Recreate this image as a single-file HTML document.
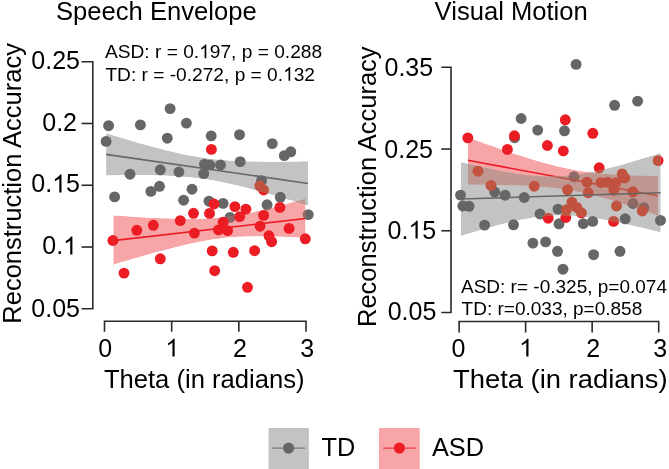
<!DOCTYPE html>
<html><head><meta charset="utf-8"><style>
html,body{margin:0;padding:0;background:#fff;width:669px;height:469px;overflow:hidden}
svg{display:block;will-change:transform}
text{font-family:"Liberation Sans",sans-serif;fill:#000}
.h{fill:transparent}
</style></head><body>
<svg width="669" height="469" viewBox="0 0 669 469">
<defs><clipPath id="cgL"><polygon points="106.10,133.21 111.15,134.75 116.19,136.27 121.24,137.79 126.29,139.28 131.34,140.76 136.38,142.22 141.43,143.66 146.48,145.08 151.53,146.46 156.57,147.81 161.62,149.12 166.67,150.39 171.72,151.61 176.76,152.77 181.81,153.88 186.86,154.91 191.91,155.87 196.95,156.75 202.00,157.55 207.05,158.27 212.10,158.90 217.14,159.45 222.19,159.93 227.24,160.33 232.29,160.66 237.34,160.94 242.38,161.16 247.43,161.33 252.48,161.47 257.52,161.56 262.57,161.62 267.62,161.66 272.67,161.67 277.72,161.66 282.76,161.63 287.81,161.58 292.86,161.52 297.90,161.44 302.95,161.35 308.00,161.26 308.00,205.63 302.95,204.08 297.90,202.54 292.86,201.01 287.81,199.49 282.76,197.99 277.72,196.50 272.67,195.04 267.62,193.59 262.57,192.17 257.52,190.78 252.48,189.42 247.43,188.10 242.38,186.82 237.34,185.58 232.29,184.40 227.24,183.28 222.19,182.23 217.14,181.25 212.10,180.35 207.05,179.53 202.00,178.79 196.95,178.13 191.91,177.56 186.86,177.06 181.81,176.64 176.76,176.29 171.72,176.00 166.67,175.77 161.62,175.58 156.57,175.44 151.53,175.33 146.48,175.26 141.43,175.22 136.38,175.20 131.34,175.21 126.29,175.24 121.24,175.28 116.19,175.34 111.15,175.41 106.10,175.49"/></clipPath><clipPath id="cpL"><polygon points="113.30,215.35 118.10,215.69 122.91,216.01 127.71,216.33 132.52,216.64 137.32,216.93 142.13,217.21 146.94,217.48 151.74,217.74 156.54,217.97 161.35,218.18 166.16,218.37 170.96,218.54 175.76,218.67 180.57,218.76 185.38,218.81 190.18,218.82 194.98,218.77 199.79,218.66 204.59,218.48 209.40,218.23 214.20,217.90 219.01,217.48 223.81,216.97 228.62,216.38 233.43,215.69 238.23,214.92 243.03,214.07 247.84,213.15 252.64,212.16 257.45,211.11 262.25,210.01 267.06,208.86 271.87,207.68 276.67,206.45 281.48,205.20 286.28,203.92 291.08,202.62 295.89,201.29 300.69,199.95 305.50,198.59 305.50,238.01 300.69,237.73 295.89,237.48 291.08,237.24 286.28,237.02 281.48,236.83 276.67,236.66 271.87,236.52 267.06,236.42 262.25,236.36 257.45,236.34 252.64,236.38 247.84,236.47 243.03,236.63 238.23,236.87 233.43,237.19 228.62,237.59 223.81,238.07 219.01,238.65 214.20,239.32 209.40,240.07 204.59,240.90 199.79,241.81 194.98,242.78 190.18,243.82 185.38,244.91 180.57,246.05 175.76,247.23 170.96,248.44 166.16,249.69 161.35,250.97 156.54,252.26 151.74,253.58 146.94,254.92 142.13,256.28 137.32,257.64 132.52,259.02 127.71,260.42 122.91,261.82 118.10,263.23 113.30,264.65"/></clipPath></defs>
<circle cx="108.6" cy="125.7" r="5.45" fill="#666666"/>
<circle cx="106.1" cy="141.4" r="5.45" fill="#666666"/>
<circle cx="140.4" cy="124.9" r="5.45" fill="#666666"/>
<circle cx="170.1" cy="108.6" r="5.45" fill="#666666"/>
<circle cx="167.3" cy="138.2" r="5.45" fill="#666666"/>
<circle cx="130.0" cy="174.2" r="5.45" fill="#666666"/>
<circle cx="160.3" cy="169.8" r="5.45" fill="#666666"/>
<circle cx="186.4" cy="123.1" r="5.45" fill="#666666"/>
<circle cx="211.2" cy="135.9" r="5.45" fill="#666666"/>
<circle cx="239.5" cy="134.7" r="5.45" fill="#666666"/>
<circle cx="240.2" cy="161.6" r="5.45" fill="#666666"/>
<circle cx="220.5" cy="165.0" r="5.45" fill="#666666"/>
<circle cx="204.5" cy="164.2" r="5.45" fill="#666666"/>
<circle cx="209.8" cy="165.0" r="5.45" fill="#666666"/>
<circle cx="203.7" cy="173.6" r="5.45" fill="#666666"/>
<circle cx="178.9" cy="172.0" r="5.45" fill="#666666"/>
<circle cx="272.3" cy="143.6" r="5.45" fill="#666666"/>
<circle cx="290.8" cy="151.8" r="5.45" fill="#666666"/>
<circle cx="284.3" cy="155.6" r="5.45" fill="#666666"/>
<circle cx="114.6" cy="196.9" r="5.45" fill="#666666"/>
<circle cx="150.9" cy="191.4" r="5.45" fill="#666666"/>
<circle cx="159.5" cy="186.3" r="5.45" fill="#666666"/>
<circle cx="192.0" cy="189.2" r="5.45" fill="#666666"/>
<circle cx="183.6" cy="200.2" r="5.45" fill="#666666"/>
<circle cx="209.0" cy="201.2" r="5.45" fill="#666666"/>
<circle cx="223.1" cy="203.4" r="5.45" fill="#666666"/>
<circle cx="230.0" cy="217.4" r="5.45" fill="#666666"/>
<circle cx="261.5" cy="180.7" r="5.45" fill="#666666"/>
<circle cx="280.3" cy="197.3" r="5.45" fill="#666666"/>
<circle cx="267.1" cy="204.8" r="5.45" fill="#666666"/>
<circle cx="308.2" cy="214.6" r="5.45" fill="#666666"/>
<circle cx="211.4" cy="149.4" r="5.45" fill="#ec1c24"/>
<circle cx="112.9" cy="240.5" r="5.45" fill="#ec1c24"/>
<circle cx="136.8" cy="230.3" r="5.45" fill="#ec1c24"/>
<circle cx="153.3" cy="225.3" r="5.45" fill="#ec1c24"/>
<circle cx="214.0" cy="204.0" r="5.45" fill="#ec1c24"/>
<circle cx="193.5" cy="213.3" r="5.45" fill="#ec1c24"/>
<circle cx="209.5" cy="213.4" r="5.45" fill="#ec1c24"/>
<circle cx="234.9" cy="206.6" r="5.45" fill="#ec1c24"/>
<circle cx="245.9" cy="209.2" r="5.45" fill="#ec1c24"/>
<circle cx="239.7" cy="216.6" r="5.45" fill="#ec1c24"/>
<circle cx="180.3" cy="220.6" r="5.45" fill="#ec1c24"/>
<circle cx="223.2" cy="222.2" r="5.45" fill="#ec1c24"/>
<circle cx="218.5" cy="229.9" r="5.45" fill="#ec1c24"/>
<circle cx="227.6" cy="230.6" r="5.45" fill="#ec1c24"/>
<circle cx="194.4" cy="233.1" r="5.45" fill="#ec1c24"/>
<circle cx="160.3" cy="258.8" r="5.45" fill="#ec1c24"/>
<circle cx="124.0" cy="273.1" r="5.45" fill="#ec1c24"/>
<circle cx="212.2" cy="250.9" r="5.45" fill="#ec1c24"/>
<circle cx="233.3" cy="252.3" r="5.45" fill="#ec1c24"/>
<circle cx="254.6" cy="250.7" r="5.45" fill="#ec1c24"/>
<circle cx="214.7" cy="270.7" r="5.45" fill="#ec1c24"/>
<circle cx="247.5" cy="287.3" r="5.45" fill="#ec1c24"/>
<circle cx="259.8" cy="185.8" r="5.45" fill="#ec1c24"/>
<circle cx="263.6" cy="190.0" r="5.45" fill="#ec1c24"/>
<circle cx="279.9" cy="207.4" r="5.45" fill="#ec1c24"/>
<circle cx="263.6" cy="215.4" r="5.45" fill="#ec1c24"/>
<circle cx="260.1" cy="226.2" r="5.45" fill="#ec1c24"/>
<circle cx="289.1" cy="228.4" r="5.45" fill="#ec1c24"/>
<circle cx="269.0" cy="235.8" r="5.45" fill="#ec1c24"/>
<circle cx="271.6" cy="241.7" r="5.45" fill="#ec1c24"/>
<circle cx="305.3" cy="238.8" r="5.45" fill="#ec1c24"/>
<g clip-path="url(#cpL)"><polygon points="113.30,215.35 118.10,215.69 122.91,216.01 127.71,216.33 132.52,216.64 137.32,216.93 142.13,217.21 146.94,217.48 151.74,217.74 156.54,217.97 161.35,218.18 166.16,218.37 170.96,218.54 175.76,218.67 180.57,218.76 185.38,218.81 190.18,218.82 194.98,218.77 199.79,218.66 204.59,218.48 209.40,218.23 214.20,217.90 219.01,217.48 223.81,216.97 228.62,216.38 233.43,215.69 238.23,214.92 243.03,214.07 247.84,213.15 252.64,212.16 257.45,211.11 262.25,210.01 267.06,208.86 271.87,207.68 276.67,206.45 281.48,205.20 286.28,203.92 291.08,202.62 295.89,201.29 300.69,199.95 305.50,198.59 305.50,238.01 300.69,237.73 295.89,237.48 291.08,237.24 286.28,237.02 281.48,236.83 276.67,236.66 271.87,236.52 267.06,236.42 262.25,236.36 257.45,236.34 252.64,236.38 247.84,236.47 243.03,236.63 238.23,236.87 233.43,237.19 228.62,237.59 223.81,238.07 219.01,238.65 214.20,239.32 209.40,240.07 204.59,240.90 199.79,241.81 194.98,242.78 190.18,243.82 185.38,244.91 180.57,246.05 175.76,247.23 170.96,248.44 166.16,249.69 161.35,250.97 156.54,252.26 151.74,253.58 146.94,254.92 142.13,256.28 137.32,257.64 132.52,259.02 127.71,260.42 122.91,261.82 118.10,263.23 113.30,264.65" fill="rgb(248,165,168)"/>
<circle cx="108.6" cy="125.7" r="5.45" fill="rgb(140,105,102)"/>
<circle cx="106.1" cy="141.4" r="5.45" fill="rgb(140,105,102)"/>
<circle cx="140.4" cy="124.9" r="5.45" fill="rgb(140,105,102)"/>
<circle cx="170.1" cy="108.6" r="5.45" fill="rgb(140,105,102)"/>
<circle cx="167.3" cy="138.2" r="5.45" fill="rgb(140,105,102)"/>
<circle cx="130.0" cy="174.2" r="5.45" fill="rgb(140,105,102)"/>
<circle cx="160.3" cy="169.8" r="5.45" fill="rgb(140,105,102)"/>
<circle cx="186.4" cy="123.1" r="5.45" fill="rgb(140,105,102)"/>
<circle cx="211.2" cy="135.9" r="5.45" fill="rgb(140,105,102)"/>
<circle cx="239.5" cy="134.7" r="5.45" fill="rgb(140,105,102)"/>
<circle cx="240.2" cy="161.6" r="5.45" fill="rgb(140,105,102)"/>
<circle cx="220.5" cy="165.0" r="5.45" fill="rgb(140,105,102)"/>
<circle cx="204.5" cy="164.2" r="5.45" fill="rgb(140,105,102)"/>
<circle cx="209.8" cy="165.0" r="5.45" fill="rgb(140,105,102)"/>
<circle cx="203.7" cy="173.6" r="5.45" fill="rgb(140,105,102)"/>
<circle cx="178.9" cy="172.0" r="5.45" fill="rgb(140,105,102)"/>
<circle cx="272.3" cy="143.6" r="5.45" fill="rgb(140,105,102)"/>
<circle cx="290.8" cy="151.8" r="5.45" fill="rgb(140,105,102)"/>
<circle cx="284.3" cy="155.6" r="5.45" fill="rgb(140,105,102)"/>
<circle cx="114.6" cy="196.9" r="5.45" fill="rgb(140,105,102)"/>
<circle cx="150.9" cy="191.4" r="5.45" fill="rgb(140,105,102)"/>
<circle cx="159.5" cy="186.3" r="5.45" fill="rgb(140,105,102)"/>
<circle cx="192.0" cy="189.2" r="5.45" fill="rgb(140,105,102)"/>
<circle cx="183.6" cy="200.2" r="5.45" fill="rgb(140,105,102)"/>
<circle cx="209.0" cy="201.2" r="5.45" fill="rgb(140,105,102)"/>
<circle cx="223.1" cy="203.4" r="5.45" fill="rgb(140,105,102)"/>
<circle cx="230.0" cy="217.4" r="5.45" fill="rgb(140,105,102)"/>
<circle cx="261.5" cy="180.7" r="5.45" fill="rgb(140,105,102)"/>
<circle cx="280.3" cy="197.3" r="5.45" fill="rgb(140,105,102)"/>
<circle cx="267.1" cy="204.8" r="5.45" fill="rgb(140,105,102)"/>
<circle cx="308.2" cy="214.6" r="5.45" fill="rgb(140,105,102)"/>
<circle cx="211.4" cy="149.4" r="5.45" fill="#ec1c24"/>
<circle cx="112.9" cy="240.5" r="5.45" fill="#ec1c24"/>
<circle cx="136.8" cy="230.3" r="5.45" fill="#ec1c24"/>
<circle cx="153.3" cy="225.3" r="5.45" fill="#ec1c24"/>
<circle cx="214.0" cy="204.0" r="5.45" fill="#ec1c24"/>
<circle cx="193.5" cy="213.3" r="5.45" fill="#ec1c24"/>
<circle cx="209.5" cy="213.4" r="5.45" fill="#ec1c24"/>
<circle cx="234.9" cy="206.6" r="5.45" fill="#ec1c24"/>
<circle cx="245.9" cy="209.2" r="5.45" fill="#ec1c24"/>
<circle cx="239.7" cy="216.6" r="5.45" fill="#ec1c24"/>
<circle cx="180.3" cy="220.6" r="5.45" fill="#ec1c24"/>
<circle cx="223.2" cy="222.2" r="5.45" fill="#ec1c24"/>
<circle cx="218.5" cy="229.9" r="5.45" fill="#ec1c24"/>
<circle cx="227.6" cy="230.6" r="5.45" fill="#ec1c24"/>
<circle cx="194.4" cy="233.1" r="5.45" fill="#ec1c24"/>
<circle cx="160.3" cy="258.8" r="5.45" fill="#ec1c24"/>
<circle cx="124.0" cy="273.1" r="5.45" fill="#ec1c24"/>
<circle cx="212.2" cy="250.9" r="5.45" fill="#ec1c24"/>
<circle cx="233.3" cy="252.3" r="5.45" fill="#ec1c24"/>
<circle cx="254.6" cy="250.7" r="5.45" fill="#ec1c24"/>
<circle cx="214.7" cy="270.7" r="5.45" fill="#ec1c24"/>
<circle cx="247.5" cy="287.3" r="5.45" fill="#ec1c24"/>
<circle cx="259.8" cy="185.8" r="5.45" fill="#ec1c24"/>
<circle cx="263.6" cy="190.0" r="5.45" fill="#ec1c24"/>
<circle cx="279.9" cy="207.4" r="5.45" fill="#ec1c24"/>
<circle cx="263.6" cy="215.4" r="5.45" fill="#ec1c24"/>
<circle cx="260.1" cy="226.2" r="5.45" fill="#ec1c24"/>
<circle cx="289.1" cy="228.4" r="5.45" fill="#ec1c24"/>
<circle cx="269.0" cy="235.8" r="5.45" fill="#ec1c24"/>
<circle cx="271.6" cy="241.7" r="5.45" fill="#ec1c24"/>
<circle cx="305.3" cy="238.8" r="5.45" fill="#ec1c24"/>
<line x1="113.3" y1="240.60" x2="305.5" y2="218.50" stroke="#ec1c24" stroke-width="1.6"/>
</g>
<g clip-path="url(#cgL)"><polygon points="106.10,133.21 111.15,134.75 116.19,136.27 121.24,137.79 126.29,139.28 131.34,140.76 136.38,142.22 141.43,143.66 146.48,145.08 151.53,146.46 156.57,147.81 161.62,149.12 166.67,150.39 171.72,151.61 176.76,152.77 181.81,153.88 186.86,154.91 191.91,155.87 196.95,156.75 202.00,157.55 207.05,158.27 212.10,158.90 217.14,159.45 222.19,159.93 227.24,160.33 232.29,160.66 237.34,160.94 242.38,161.16 247.43,161.33 252.48,161.47 257.52,161.56 262.57,161.62 267.62,161.66 272.67,161.67 277.72,161.66 282.76,161.63 287.81,161.58 292.86,161.52 297.90,161.44 302.95,161.35 308.00,161.26 308.00,205.63 302.95,204.08 297.90,202.54 292.86,201.01 287.81,199.49 282.76,197.99 277.72,196.50 272.67,195.04 267.62,193.59 262.57,192.17 257.52,190.78 252.48,189.42 247.43,188.10 242.38,186.82 237.34,185.58 232.29,184.40 227.24,183.28 222.19,182.23 217.14,181.25 212.10,180.35 207.05,179.53 202.00,178.79 196.95,178.13 191.91,177.56 186.86,177.06 181.81,176.64 176.76,176.29 171.72,176.00 166.67,175.77 161.62,175.58 156.57,175.44 151.53,175.33 146.48,175.26 141.43,175.22 136.38,175.20 131.34,175.21 126.29,175.24 121.24,175.28 116.19,175.34 111.15,175.41 106.10,175.49" fill="rgb(195,195,195)"/>
<circle cx="108.6" cy="125.7" r="5.45" fill="#666666"/>
<circle cx="106.1" cy="141.4" r="5.45" fill="#666666"/>
<circle cx="140.4" cy="124.9" r="5.45" fill="#666666"/>
<circle cx="170.1" cy="108.6" r="5.45" fill="#666666"/>
<circle cx="167.3" cy="138.2" r="5.45" fill="#666666"/>
<circle cx="130.0" cy="174.2" r="5.45" fill="#666666"/>
<circle cx="160.3" cy="169.8" r="5.45" fill="#666666"/>
<circle cx="186.4" cy="123.1" r="5.45" fill="#666666"/>
<circle cx="211.2" cy="135.9" r="5.45" fill="#666666"/>
<circle cx="239.5" cy="134.7" r="5.45" fill="#666666"/>
<circle cx="240.2" cy="161.6" r="5.45" fill="#666666"/>
<circle cx="220.5" cy="165.0" r="5.45" fill="#666666"/>
<circle cx="204.5" cy="164.2" r="5.45" fill="#666666"/>
<circle cx="209.8" cy="165.0" r="5.45" fill="#666666"/>
<circle cx="203.7" cy="173.6" r="5.45" fill="#666666"/>
<circle cx="178.9" cy="172.0" r="5.45" fill="#666666"/>
<circle cx="272.3" cy="143.6" r="5.45" fill="#666666"/>
<circle cx="290.8" cy="151.8" r="5.45" fill="#666666"/>
<circle cx="284.3" cy="155.6" r="5.45" fill="#666666"/>
<circle cx="114.6" cy="196.9" r="5.45" fill="#666666"/>
<circle cx="150.9" cy="191.4" r="5.45" fill="#666666"/>
<circle cx="159.5" cy="186.3" r="5.45" fill="#666666"/>
<circle cx="192.0" cy="189.2" r="5.45" fill="#666666"/>
<circle cx="183.6" cy="200.2" r="5.45" fill="#666666"/>
<circle cx="209.0" cy="201.2" r="5.45" fill="#666666"/>
<circle cx="223.1" cy="203.4" r="5.45" fill="#666666"/>
<circle cx="230.0" cy="217.4" r="5.45" fill="#666666"/>
<circle cx="261.5" cy="180.7" r="5.45" fill="#666666"/>
<circle cx="280.3" cy="197.3" r="5.45" fill="#666666"/>
<circle cx="267.1" cy="204.8" r="5.45" fill="#666666"/>
<circle cx="308.2" cy="214.6" r="5.45" fill="#666666"/>
<circle cx="211.4" cy="149.4" r="5.45" fill="rgb(193,82,64)"/>
<circle cx="112.9" cy="240.5" r="5.45" fill="rgb(193,82,64)"/>
<circle cx="136.8" cy="230.3" r="5.45" fill="rgb(193,82,64)"/>
<circle cx="153.3" cy="225.3" r="5.45" fill="rgb(193,82,64)"/>
<circle cx="214.0" cy="204.0" r="5.45" fill="rgb(193,82,64)"/>
<circle cx="193.5" cy="213.3" r="5.45" fill="rgb(193,82,64)"/>
<circle cx="209.5" cy="213.4" r="5.45" fill="rgb(193,82,64)"/>
<circle cx="234.9" cy="206.6" r="5.45" fill="rgb(193,82,64)"/>
<circle cx="245.9" cy="209.2" r="5.45" fill="rgb(193,82,64)"/>
<circle cx="239.7" cy="216.6" r="5.45" fill="rgb(193,82,64)"/>
<circle cx="180.3" cy="220.6" r="5.45" fill="rgb(193,82,64)"/>
<circle cx="223.2" cy="222.2" r="5.45" fill="rgb(193,82,64)"/>
<circle cx="218.5" cy="229.9" r="5.45" fill="rgb(193,82,64)"/>
<circle cx="227.6" cy="230.6" r="5.45" fill="rgb(193,82,64)"/>
<circle cx="194.4" cy="233.1" r="5.45" fill="rgb(193,82,64)"/>
<circle cx="160.3" cy="258.8" r="5.45" fill="rgb(193,82,64)"/>
<circle cx="124.0" cy="273.1" r="5.45" fill="rgb(193,82,64)"/>
<circle cx="212.2" cy="250.9" r="5.45" fill="rgb(193,82,64)"/>
<circle cx="233.3" cy="252.3" r="5.45" fill="rgb(193,82,64)"/>
<circle cx="254.6" cy="250.7" r="5.45" fill="rgb(193,82,64)"/>
<circle cx="214.7" cy="270.7" r="5.45" fill="rgb(193,82,64)"/>
<circle cx="247.5" cy="287.3" r="5.45" fill="rgb(193,82,64)"/>
<circle cx="259.8" cy="185.8" r="5.45" fill="rgb(193,82,64)"/>
<circle cx="263.6" cy="190.0" r="5.45" fill="rgb(193,82,64)"/>
<circle cx="279.9" cy="207.4" r="5.45" fill="rgb(193,82,64)"/>
<circle cx="263.6" cy="215.4" r="5.45" fill="rgb(193,82,64)"/>
<circle cx="260.1" cy="226.2" r="5.45" fill="rgb(193,82,64)"/>
<circle cx="289.1" cy="228.4" r="5.45" fill="rgb(193,82,64)"/>
<circle cx="269.0" cy="235.8" r="5.45" fill="rgb(193,82,64)"/>
<circle cx="271.6" cy="241.7" r="5.45" fill="rgb(193,82,64)"/>
<circle cx="305.3" cy="238.8" r="5.45" fill="rgb(193,82,64)"/>
<g clip-path="url(#cpL)"><polygon points="113.30,215.35 118.10,215.69 122.91,216.01 127.71,216.33 132.52,216.64 137.32,216.93 142.13,217.21 146.94,217.48 151.74,217.74 156.54,217.97 161.35,218.18 166.16,218.37 170.96,218.54 175.76,218.67 180.57,218.76 185.38,218.81 190.18,218.82 194.98,218.77 199.79,218.66 204.59,218.48 209.40,218.23 214.20,217.90 219.01,217.48 223.81,216.97 228.62,216.38 233.43,215.69 238.23,214.92 243.03,214.07 247.84,213.15 252.64,212.16 257.45,211.11 262.25,210.01 267.06,208.86 271.87,207.68 276.67,206.45 281.48,205.20 286.28,203.92 291.08,202.62 295.89,201.29 300.69,199.95 305.50,198.59 305.50,238.01 300.69,237.73 295.89,237.48 291.08,237.24 286.28,237.02 281.48,236.83 276.67,236.66 271.87,236.52 267.06,236.42 262.25,236.36 257.45,236.34 252.64,236.38 247.84,236.47 243.03,236.63 238.23,236.87 233.43,237.19 228.62,237.59 223.81,238.07 219.01,238.65 214.20,239.32 209.40,240.07 204.59,240.90 199.79,241.81 194.98,242.78 190.18,243.82 185.38,244.91 180.57,246.05 175.76,247.23 170.96,248.44 166.16,249.69 161.35,250.97 156.54,252.26 151.74,253.58 146.94,254.92 142.13,256.28 137.32,257.64 132.52,259.02 127.71,260.42 122.91,261.82 118.10,263.23 113.30,264.65" fill="rgb(192,150,144)"/>
<circle cx="108.6" cy="125.7" r="5.45" fill="rgb(140,104,100)"/>
<circle cx="106.1" cy="141.4" r="5.45" fill="rgb(140,104,100)"/>
<circle cx="140.4" cy="124.9" r="5.45" fill="rgb(140,104,100)"/>
<circle cx="170.1" cy="108.6" r="5.45" fill="rgb(140,104,100)"/>
<circle cx="167.3" cy="138.2" r="5.45" fill="rgb(140,104,100)"/>
<circle cx="130.0" cy="174.2" r="5.45" fill="rgb(140,104,100)"/>
<circle cx="160.3" cy="169.8" r="5.45" fill="rgb(140,104,100)"/>
<circle cx="186.4" cy="123.1" r="5.45" fill="rgb(140,104,100)"/>
<circle cx="211.2" cy="135.9" r="5.45" fill="rgb(140,104,100)"/>
<circle cx="239.5" cy="134.7" r="5.45" fill="rgb(140,104,100)"/>
<circle cx="240.2" cy="161.6" r="5.45" fill="rgb(140,104,100)"/>
<circle cx="220.5" cy="165.0" r="5.45" fill="rgb(140,104,100)"/>
<circle cx="204.5" cy="164.2" r="5.45" fill="rgb(140,104,100)"/>
<circle cx="209.8" cy="165.0" r="5.45" fill="rgb(140,104,100)"/>
<circle cx="203.7" cy="173.6" r="5.45" fill="rgb(140,104,100)"/>
<circle cx="178.9" cy="172.0" r="5.45" fill="rgb(140,104,100)"/>
<circle cx="272.3" cy="143.6" r="5.45" fill="rgb(140,104,100)"/>
<circle cx="290.8" cy="151.8" r="5.45" fill="rgb(140,104,100)"/>
<circle cx="284.3" cy="155.6" r="5.45" fill="rgb(140,104,100)"/>
<circle cx="114.6" cy="196.9" r="5.45" fill="rgb(140,104,100)"/>
<circle cx="150.9" cy="191.4" r="5.45" fill="rgb(140,104,100)"/>
<circle cx="159.5" cy="186.3" r="5.45" fill="rgb(140,104,100)"/>
<circle cx="192.0" cy="189.2" r="5.45" fill="rgb(140,104,100)"/>
<circle cx="183.6" cy="200.2" r="5.45" fill="rgb(140,104,100)"/>
<circle cx="209.0" cy="201.2" r="5.45" fill="rgb(140,104,100)"/>
<circle cx="223.1" cy="203.4" r="5.45" fill="rgb(140,104,100)"/>
<circle cx="230.0" cy="217.4" r="5.45" fill="rgb(140,104,100)"/>
<circle cx="261.5" cy="180.7" r="5.45" fill="rgb(140,104,100)"/>
<circle cx="280.3" cy="197.3" r="5.45" fill="rgb(140,104,100)"/>
<circle cx="267.1" cy="204.8" r="5.45" fill="rgb(140,104,100)"/>
<circle cx="308.2" cy="214.6" r="5.45" fill="rgb(140,104,100)"/>
<circle cx="211.4" cy="149.4" r="5.45" fill="rgb(193,82,64)"/>
<circle cx="112.9" cy="240.5" r="5.45" fill="rgb(193,82,64)"/>
<circle cx="136.8" cy="230.3" r="5.45" fill="rgb(193,82,64)"/>
<circle cx="153.3" cy="225.3" r="5.45" fill="rgb(193,82,64)"/>
<circle cx="214.0" cy="204.0" r="5.45" fill="rgb(193,82,64)"/>
<circle cx="193.5" cy="213.3" r="5.45" fill="rgb(193,82,64)"/>
<circle cx="209.5" cy="213.4" r="5.45" fill="rgb(193,82,64)"/>
<circle cx="234.9" cy="206.6" r="5.45" fill="rgb(193,82,64)"/>
<circle cx="245.9" cy="209.2" r="5.45" fill="rgb(193,82,64)"/>
<circle cx="239.7" cy="216.6" r="5.45" fill="rgb(193,82,64)"/>
<circle cx="180.3" cy="220.6" r="5.45" fill="rgb(193,82,64)"/>
<circle cx="223.2" cy="222.2" r="5.45" fill="rgb(193,82,64)"/>
<circle cx="218.5" cy="229.9" r="5.45" fill="rgb(193,82,64)"/>
<circle cx="227.6" cy="230.6" r="5.45" fill="rgb(193,82,64)"/>
<circle cx="194.4" cy="233.1" r="5.45" fill="rgb(193,82,64)"/>
<circle cx="160.3" cy="258.8" r="5.45" fill="rgb(193,82,64)"/>
<circle cx="124.0" cy="273.1" r="5.45" fill="rgb(193,82,64)"/>
<circle cx="212.2" cy="250.9" r="5.45" fill="rgb(193,82,64)"/>
<circle cx="233.3" cy="252.3" r="5.45" fill="rgb(193,82,64)"/>
<circle cx="254.6" cy="250.7" r="5.45" fill="rgb(193,82,64)"/>
<circle cx="214.7" cy="270.7" r="5.45" fill="rgb(193,82,64)"/>
<circle cx="247.5" cy="287.3" r="5.45" fill="rgb(193,82,64)"/>
<circle cx="259.8" cy="185.8" r="5.45" fill="rgb(193,82,64)"/>
<circle cx="263.6" cy="190.0" r="5.45" fill="rgb(193,82,64)"/>
<circle cx="279.9" cy="207.4" r="5.45" fill="rgb(193,82,64)"/>
<circle cx="263.6" cy="215.4" r="5.45" fill="rgb(193,82,64)"/>
<circle cx="260.1" cy="226.2" r="5.45" fill="rgb(193,82,64)"/>
<circle cx="289.1" cy="228.4" r="5.45" fill="rgb(193,82,64)"/>
<circle cx="269.0" cy="235.8" r="5.45" fill="rgb(193,82,64)"/>
<circle cx="271.6" cy="241.7" r="5.45" fill="rgb(193,82,64)"/>
<circle cx="305.3" cy="238.8" r="5.45" fill="rgb(193,82,64)"/>
<line x1="113.3" y1="240.60" x2="305.5" y2="218.50" stroke="rgb(193,82,64)" stroke-width="1.6"/>
</g></g>
<line x1="106.1" y1="154.35" x2="308.0" y2="183.44" stroke="#666666" stroke-width="1.6"/>
<defs><clipPath id="cgR"><polygon points="461.00,161.94 465.99,163.18 470.99,164.40 475.98,165.59 480.97,166.75 485.96,167.87 490.95,168.96 495.95,170.01 500.94,171.01 505.93,171.95 510.93,172.83 515.92,173.64 520.91,174.37 525.90,175.01 530.89,175.56 535.89,175.99 540.88,176.30 545.87,176.49 550.87,176.54 555.86,176.45 560.85,176.23 565.84,175.86 570.84,175.37 575.83,174.74 580.82,173.99 585.81,173.14 590.81,172.18 595.80,171.14 600.79,170.02 605.78,168.82 610.78,167.57 615.77,166.25 620.76,164.89 625.75,163.49 630.75,162.05 635.74,160.58 640.73,159.07 645.72,157.54 650.72,155.99 655.71,154.42 660.70,152.83 660.70,232.59 655.71,231.31 650.72,230.06 645.72,228.82 640.73,227.60 635.74,226.41 630.75,225.26 625.75,224.13 620.76,223.04 615.77,222.00 610.78,221.00 605.78,220.06 600.79,219.18 595.80,218.37 590.81,217.64 585.81,217.00 580.82,216.46 575.83,216.03 570.84,215.72 565.84,215.53 560.85,215.48 555.86,215.57 550.87,215.80 545.87,216.16 540.88,216.67 535.89,217.29 530.89,218.04 525.90,218.90 520.91,219.85 515.92,220.90 510.93,222.02 505.93,223.22 500.94,224.48 495.95,225.79 490.95,227.15 485.96,228.55 480.97,230.00 475.98,231.47 470.99,232.97 465.99,234.50 461.00,236.06"/></clipPath><clipPath id="cpR"><polygon points="467.80,137.34 472.56,139.06 477.31,140.77 482.06,142.47 486.82,144.16 491.57,145.83 496.33,147.50 501.09,149.14 505.84,150.77 510.60,152.38 515.35,153.97 520.11,155.53 524.86,157.06 529.62,158.55 534.37,160.01 539.12,161.42 543.88,162.78 548.63,164.09 553.39,165.33 558.14,166.50 562.90,167.59 567.65,168.61 572.41,169.54 577.16,170.39 581.92,171.15 586.67,171.82 591.43,172.42 596.18,172.95 600.94,173.41 605.69,173.82 610.45,174.16 615.21,174.47 619.96,174.73 624.72,174.95 629.47,175.14 634.23,175.31 638.98,175.45 643.74,175.57 648.49,175.67 653.25,175.75 658.00,175.82 658.00,215.79 653.25,214.12 648.49,212.46 643.74,210.82 638.98,209.20 634.23,207.60 629.47,206.03 624.72,204.48 619.96,202.96 615.21,201.48 610.45,200.05 605.69,198.65 600.94,197.32 596.18,196.04 591.43,194.82 586.67,193.68 581.92,192.62 577.16,191.64 572.41,190.75 567.65,189.94 562.90,189.21 558.14,188.57 553.39,188.00 548.63,187.50 543.88,187.06 539.12,186.68 534.37,186.35 529.62,186.07 524.86,185.83 520.11,185.62 515.35,185.43 510.60,185.28 505.84,185.15 501.09,185.04 496.33,184.94 491.57,184.87 486.82,184.80 482.06,184.75 477.31,184.71 472.56,184.68 467.80,184.66"/></clipPath></defs>
<circle cx="521.1" cy="118.5" r="5.45" fill="#666666"/>
<circle cx="576.1" cy="64.4" r="5.45" fill="#666666"/>
<circle cx="537.7" cy="130.1" r="5.45" fill="#666666"/>
<circle cx="564.5" cy="130.8" r="5.45" fill="#666666"/>
<circle cx="614.6" cy="105.3" r="5.45" fill="#666666"/>
<circle cx="637.6" cy="101.1" r="5.45" fill="#666666"/>
<circle cx="514.6" cy="137.7" r="5.45" fill="#666666"/>
<circle cx="460.5" cy="195.1" r="5.45" fill="#666666"/>
<circle cx="462.8" cy="206.0" r="5.45" fill="#666666"/>
<circle cx="469.1" cy="206.3" r="5.45" fill="#666666"/>
<circle cx="494.7" cy="192.0" r="5.45" fill="#666666"/>
<circle cx="505.1" cy="195.2" r="5.45" fill="#666666"/>
<circle cx="524.2" cy="197.5" r="5.45" fill="#666666"/>
<circle cx="484.6" cy="225.1" r="5.45" fill="#666666"/>
<circle cx="513.5" cy="224.8" r="5.45" fill="#666666"/>
<circle cx="532.9" cy="243.1" r="5.45" fill="#666666"/>
<circle cx="545.6" cy="241.9" r="5.45" fill="#666666"/>
<circle cx="557.5" cy="251.3" r="5.45" fill="#666666"/>
<circle cx="593.6" cy="254.7" r="5.45" fill="#666666"/>
<circle cx="563.0" cy="269.2" r="5.45" fill="#666666"/>
<circle cx="620.0" cy="251.3" r="5.45" fill="#666666"/>
<circle cx="540.0" cy="214.0" r="5.45" fill="#666666"/>
<circle cx="558.0" cy="209.1" r="5.45" fill="#666666"/>
<circle cx="559.0" cy="223.8" r="5.45" fill="#666666"/>
<circle cx="583.3" cy="223.6" r="5.45" fill="#666666"/>
<circle cx="592.7" cy="221.4" r="5.45" fill="#666666"/>
<circle cx="625.2" cy="218.8" r="5.45" fill="#666666"/>
<circle cx="660.5" cy="220.4" r="5.45" fill="#666666"/>
<circle cx="574.0" cy="176.7" r="5.45" fill="#666666"/>
<circle cx="633.0" cy="203.5" r="5.45" fill="#666666"/>
<circle cx="643.8" cy="207.7" r="5.45" fill="#666666"/>
<circle cx="467.8" cy="137.9" r="5.45" fill="#ec1c24"/>
<circle cx="514.4" cy="135.8" r="5.45" fill="#ec1c24"/>
<circle cx="507.4" cy="149.4" r="5.45" fill="#ec1c24"/>
<circle cx="565.3" cy="119.8" r="5.45" fill="#ec1c24"/>
<circle cx="592.8" cy="133.3" r="5.45" fill="#ec1c24"/>
<circle cx="547.4" cy="145.5" r="5.45" fill="#ec1c24"/>
<circle cx="563.3" cy="150.9" r="5.45" fill="#ec1c24"/>
<circle cx="599.2" cy="167.8" r="5.45" fill="#ec1c24"/>
<circle cx="478.0" cy="171.2" r="5.45" fill="#ec1c24"/>
<circle cx="491.0" cy="185.5" r="5.45" fill="#ec1c24"/>
<circle cx="534.3" cy="186.2" r="5.45" fill="#ec1c24"/>
<circle cx="567.5" cy="189.8" r="5.45" fill="#ec1c24"/>
<circle cx="587.0" cy="182.2" r="5.45" fill="#ec1c24"/>
<circle cx="588.3" cy="192.8" r="5.45" fill="#ec1c24"/>
<circle cx="600.9" cy="182.6" r="5.45" fill="#ec1c24"/>
<circle cx="607.6" cy="182.2" r="5.45" fill="#ec1c24"/>
<circle cx="615.9" cy="182.8" r="5.45" fill="#ec1c24"/>
<circle cx="622.2" cy="173.9" r="5.45" fill="#ec1c24"/>
<circle cx="624.7" cy="177.9" r="5.45" fill="#ec1c24"/>
<circle cx="613.8" cy="190.3" r="5.45" fill="#ec1c24"/>
<circle cx="632.8" cy="191.8" r="5.45" fill="#ec1c24"/>
<circle cx="571.9" cy="202.1" r="5.45" fill="#ec1c24"/>
<circle cx="566.5" cy="209.7" r="5.45" fill="#ec1c24"/>
<circle cx="576.8" cy="207.4" r="5.45" fill="#ec1c24"/>
<circle cx="581.4" cy="212.8" r="5.45" fill="#ec1c24"/>
<circle cx="548.2" cy="218.2" r="5.45" fill="#ec1c24"/>
<circle cx="565.8" cy="217.5" r="5.45" fill="#ec1c24"/>
<circle cx="613.6" cy="221.4" r="5.45" fill="#ec1c24"/>
<circle cx="658.1" cy="160.6" r="5.45" fill="#ec1c24"/>
<circle cx="616.5" cy="206.0" r="5.45" fill="#ec1c24"/>
<circle cx="642.3" cy="211.0" r="5.45" fill="#ec1c24"/>
<g clip-path="url(#cpR)"><polygon points="467.80,137.34 472.56,139.06 477.31,140.77 482.06,142.47 486.82,144.16 491.57,145.83 496.33,147.50 501.09,149.14 505.84,150.77 510.60,152.38 515.35,153.97 520.11,155.53 524.86,157.06 529.62,158.55 534.37,160.01 539.12,161.42 543.88,162.78 548.63,164.09 553.39,165.33 558.14,166.50 562.90,167.59 567.65,168.61 572.41,169.54 577.16,170.39 581.92,171.15 586.67,171.82 591.43,172.42 596.18,172.95 600.94,173.41 605.69,173.82 610.45,174.16 615.21,174.47 619.96,174.73 624.72,174.95 629.47,175.14 634.23,175.31 638.98,175.45 643.74,175.57 648.49,175.67 653.25,175.75 658.00,175.82 658.00,215.79 653.25,214.12 648.49,212.46 643.74,210.82 638.98,209.20 634.23,207.60 629.47,206.03 624.72,204.48 619.96,202.96 615.21,201.48 610.45,200.05 605.69,198.65 600.94,197.32 596.18,196.04 591.43,194.82 586.67,193.68 581.92,192.62 577.16,191.64 572.41,190.75 567.65,189.94 562.90,189.21 558.14,188.57 553.39,188.00 548.63,187.50 543.88,187.06 539.12,186.68 534.37,186.35 529.62,186.07 524.86,185.83 520.11,185.62 515.35,185.43 510.60,185.28 505.84,185.15 501.09,185.04 496.33,184.94 491.57,184.87 486.82,184.80 482.06,184.75 477.31,184.71 472.56,184.68 467.80,184.66" fill="rgb(248,165,168)"/>
<circle cx="521.1" cy="118.5" r="5.45" fill="rgb(140,105,102)"/>
<circle cx="576.1" cy="64.4" r="5.45" fill="rgb(140,105,102)"/>
<circle cx="537.7" cy="130.1" r="5.45" fill="rgb(140,105,102)"/>
<circle cx="564.5" cy="130.8" r="5.45" fill="rgb(140,105,102)"/>
<circle cx="614.6" cy="105.3" r="5.45" fill="rgb(140,105,102)"/>
<circle cx="637.6" cy="101.1" r="5.45" fill="rgb(140,105,102)"/>
<circle cx="514.6" cy="137.7" r="5.45" fill="rgb(140,105,102)"/>
<circle cx="460.5" cy="195.1" r="5.45" fill="rgb(140,105,102)"/>
<circle cx="462.8" cy="206.0" r="5.45" fill="rgb(140,105,102)"/>
<circle cx="469.1" cy="206.3" r="5.45" fill="rgb(140,105,102)"/>
<circle cx="494.7" cy="192.0" r="5.45" fill="rgb(140,105,102)"/>
<circle cx="505.1" cy="195.2" r="5.45" fill="rgb(140,105,102)"/>
<circle cx="524.2" cy="197.5" r="5.45" fill="rgb(140,105,102)"/>
<circle cx="484.6" cy="225.1" r="5.45" fill="rgb(140,105,102)"/>
<circle cx="513.5" cy="224.8" r="5.45" fill="rgb(140,105,102)"/>
<circle cx="532.9" cy="243.1" r="5.45" fill="rgb(140,105,102)"/>
<circle cx="545.6" cy="241.9" r="5.45" fill="rgb(140,105,102)"/>
<circle cx="557.5" cy="251.3" r="5.45" fill="rgb(140,105,102)"/>
<circle cx="593.6" cy="254.7" r="5.45" fill="rgb(140,105,102)"/>
<circle cx="563.0" cy="269.2" r="5.45" fill="rgb(140,105,102)"/>
<circle cx="620.0" cy="251.3" r="5.45" fill="rgb(140,105,102)"/>
<circle cx="540.0" cy="214.0" r="5.45" fill="rgb(140,105,102)"/>
<circle cx="558.0" cy="209.1" r="5.45" fill="rgb(140,105,102)"/>
<circle cx="559.0" cy="223.8" r="5.45" fill="rgb(140,105,102)"/>
<circle cx="583.3" cy="223.6" r="5.45" fill="rgb(140,105,102)"/>
<circle cx="592.7" cy="221.4" r="5.45" fill="rgb(140,105,102)"/>
<circle cx="625.2" cy="218.8" r="5.45" fill="rgb(140,105,102)"/>
<circle cx="660.5" cy="220.4" r="5.45" fill="rgb(140,105,102)"/>
<circle cx="574.0" cy="176.7" r="5.45" fill="rgb(140,105,102)"/>
<circle cx="633.0" cy="203.5" r="5.45" fill="rgb(140,105,102)"/>
<circle cx="643.8" cy="207.7" r="5.45" fill="rgb(140,105,102)"/>
<circle cx="467.8" cy="137.9" r="5.45" fill="#ec1c24"/>
<circle cx="514.4" cy="135.8" r="5.45" fill="#ec1c24"/>
<circle cx="507.4" cy="149.4" r="5.45" fill="#ec1c24"/>
<circle cx="565.3" cy="119.8" r="5.45" fill="#ec1c24"/>
<circle cx="592.8" cy="133.3" r="5.45" fill="#ec1c24"/>
<circle cx="547.4" cy="145.5" r="5.45" fill="#ec1c24"/>
<circle cx="563.3" cy="150.9" r="5.45" fill="#ec1c24"/>
<circle cx="599.2" cy="167.8" r="5.45" fill="#ec1c24"/>
<circle cx="478.0" cy="171.2" r="5.45" fill="#ec1c24"/>
<circle cx="491.0" cy="185.5" r="5.45" fill="#ec1c24"/>
<circle cx="534.3" cy="186.2" r="5.45" fill="#ec1c24"/>
<circle cx="567.5" cy="189.8" r="5.45" fill="#ec1c24"/>
<circle cx="587.0" cy="182.2" r="5.45" fill="#ec1c24"/>
<circle cx="588.3" cy="192.8" r="5.45" fill="#ec1c24"/>
<circle cx="600.9" cy="182.6" r="5.45" fill="#ec1c24"/>
<circle cx="607.6" cy="182.2" r="5.45" fill="#ec1c24"/>
<circle cx="615.9" cy="182.8" r="5.45" fill="#ec1c24"/>
<circle cx="622.2" cy="173.9" r="5.45" fill="#ec1c24"/>
<circle cx="624.7" cy="177.9" r="5.45" fill="#ec1c24"/>
<circle cx="613.8" cy="190.3" r="5.45" fill="#ec1c24"/>
<circle cx="632.8" cy="191.8" r="5.45" fill="#ec1c24"/>
<circle cx="571.9" cy="202.1" r="5.45" fill="#ec1c24"/>
<circle cx="566.5" cy="209.7" r="5.45" fill="#ec1c24"/>
<circle cx="576.8" cy="207.4" r="5.45" fill="#ec1c24"/>
<circle cx="581.4" cy="212.8" r="5.45" fill="#ec1c24"/>
<circle cx="548.2" cy="218.2" r="5.45" fill="#ec1c24"/>
<circle cx="565.8" cy="217.5" r="5.45" fill="#ec1c24"/>
<circle cx="613.6" cy="221.4" r="5.45" fill="#ec1c24"/>
<circle cx="658.1" cy="160.6" r="5.45" fill="#ec1c24"/>
<circle cx="616.5" cy="206.0" r="5.45" fill="#ec1c24"/>
<circle cx="642.3" cy="211.0" r="5.45" fill="#ec1c24"/>
<line x1="467.8" y1="160.30" x2="658.0" y2="195.79" stroke="#ec1c24" stroke-width="1.6"/>
</g>
<g clip-path="url(#cgR)"><polygon points="461.00,161.94 465.99,163.18 470.99,164.40 475.98,165.59 480.97,166.75 485.96,167.87 490.95,168.96 495.95,170.01 500.94,171.01 505.93,171.95 510.93,172.83 515.92,173.64 520.91,174.37 525.90,175.01 530.89,175.56 535.89,175.99 540.88,176.30 545.87,176.49 550.87,176.54 555.86,176.45 560.85,176.23 565.84,175.86 570.84,175.37 575.83,174.74 580.82,173.99 585.81,173.14 590.81,172.18 595.80,171.14 600.79,170.02 605.78,168.82 610.78,167.57 615.77,166.25 620.76,164.89 625.75,163.49 630.75,162.05 635.74,160.58 640.73,159.07 645.72,157.54 650.72,155.99 655.71,154.42 660.70,152.83 660.70,232.59 655.71,231.31 650.72,230.06 645.72,228.82 640.73,227.60 635.74,226.41 630.75,225.26 625.75,224.13 620.76,223.04 615.77,222.00 610.78,221.00 605.78,220.06 600.79,219.18 595.80,218.37 590.81,217.64 585.81,217.00 580.82,216.46 575.83,216.03 570.84,215.72 565.84,215.53 560.85,215.48 555.86,215.57 550.87,215.80 545.87,216.16 540.88,216.67 535.89,217.29 530.89,218.04 525.90,218.90 520.91,219.85 515.92,220.90 510.93,222.02 505.93,223.22 500.94,224.48 495.95,225.79 490.95,227.15 485.96,228.55 480.97,230.00 475.98,231.47 470.99,232.97 465.99,234.50 461.00,236.06" fill="rgb(195,195,195)"/>
<circle cx="521.1" cy="118.5" r="5.45" fill="#666666"/>
<circle cx="576.1" cy="64.4" r="5.45" fill="#666666"/>
<circle cx="537.7" cy="130.1" r="5.45" fill="#666666"/>
<circle cx="564.5" cy="130.8" r="5.45" fill="#666666"/>
<circle cx="614.6" cy="105.3" r="5.45" fill="#666666"/>
<circle cx="637.6" cy="101.1" r="5.45" fill="#666666"/>
<circle cx="514.6" cy="137.7" r="5.45" fill="#666666"/>
<circle cx="460.5" cy="195.1" r="5.45" fill="#666666"/>
<circle cx="462.8" cy="206.0" r="5.45" fill="#666666"/>
<circle cx="469.1" cy="206.3" r="5.45" fill="#666666"/>
<circle cx="494.7" cy="192.0" r="5.45" fill="#666666"/>
<circle cx="505.1" cy="195.2" r="5.45" fill="#666666"/>
<circle cx="524.2" cy="197.5" r="5.45" fill="#666666"/>
<circle cx="484.6" cy="225.1" r="5.45" fill="#666666"/>
<circle cx="513.5" cy="224.8" r="5.45" fill="#666666"/>
<circle cx="532.9" cy="243.1" r="5.45" fill="#666666"/>
<circle cx="545.6" cy="241.9" r="5.45" fill="#666666"/>
<circle cx="557.5" cy="251.3" r="5.45" fill="#666666"/>
<circle cx="593.6" cy="254.7" r="5.45" fill="#666666"/>
<circle cx="563.0" cy="269.2" r="5.45" fill="#666666"/>
<circle cx="620.0" cy="251.3" r="5.45" fill="#666666"/>
<circle cx="540.0" cy="214.0" r="5.45" fill="#666666"/>
<circle cx="558.0" cy="209.1" r="5.45" fill="#666666"/>
<circle cx="559.0" cy="223.8" r="5.45" fill="#666666"/>
<circle cx="583.3" cy="223.6" r="5.45" fill="#666666"/>
<circle cx="592.7" cy="221.4" r="5.45" fill="#666666"/>
<circle cx="625.2" cy="218.8" r="5.45" fill="#666666"/>
<circle cx="660.5" cy="220.4" r="5.45" fill="#666666"/>
<circle cx="574.0" cy="176.7" r="5.45" fill="#666666"/>
<circle cx="633.0" cy="203.5" r="5.45" fill="#666666"/>
<circle cx="643.8" cy="207.7" r="5.45" fill="#666666"/>
<circle cx="467.8" cy="137.9" r="5.45" fill="rgb(193,82,64)"/>
<circle cx="514.4" cy="135.8" r="5.45" fill="rgb(193,82,64)"/>
<circle cx="507.4" cy="149.4" r="5.45" fill="rgb(193,82,64)"/>
<circle cx="565.3" cy="119.8" r="5.45" fill="rgb(193,82,64)"/>
<circle cx="592.8" cy="133.3" r="5.45" fill="rgb(193,82,64)"/>
<circle cx="547.4" cy="145.5" r="5.45" fill="rgb(193,82,64)"/>
<circle cx="563.3" cy="150.9" r="5.45" fill="rgb(193,82,64)"/>
<circle cx="599.2" cy="167.8" r="5.45" fill="rgb(193,82,64)"/>
<circle cx="478.0" cy="171.2" r="5.45" fill="rgb(193,82,64)"/>
<circle cx="491.0" cy="185.5" r="5.45" fill="rgb(193,82,64)"/>
<circle cx="534.3" cy="186.2" r="5.45" fill="rgb(193,82,64)"/>
<circle cx="567.5" cy="189.8" r="5.45" fill="rgb(193,82,64)"/>
<circle cx="587.0" cy="182.2" r="5.45" fill="rgb(193,82,64)"/>
<circle cx="588.3" cy="192.8" r="5.45" fill="rgb(193,82,64)"/>
<circle cx="600.9" cy="182.6" r="5.45" fill="rgb(193,82,64)"/>
<circle cx="607.6" cy="182.2" r="5.45" fill="rgb(193,82,64)"/>
<circle cx="615.9" cy="182.8" r="5.45" fill="rgb(193,82,64)"/>
<circle cx="622.2" cy="173.9" r="5.45" fill="rgb(193,82,64)"/>
<circle cx="624.7" cy="177.9" r="5.45" fill="rgb(193,82,64)"/>
<circle cx="613.8" cy="190.3" r="5.45" fill="rgb(193,82,64)"/>
<circle cx="632.8" cy="191.8" r="5.45" fill="rgb(193,82,64)"/>
<circle cx="571.9" cy="202.1" r="5.45" fill="rgb(193,82,64)"/>
<circle cx="566.5" cy="209.7" r="5.45" fill="rgb(193,82,64)"/>
<circle cx="576.8" cy="207.4" r="5.45" fill="rgb(193,82,64)"/>
<circle cx="581.4" cy="212.8" r="5.45" fill="rgb(193,82,64)"/>
<circle cx="548.2" cy="218.2" r="5.45" fill="rgb(193,82,64)"/>
<circle cx="565.8" cy="217.5" r="5.45" fill="rgb(193,82,64)"/>
<circle cx="613.6" cy="221.4" r="5.45" fill="rgb(193,82,64)"/>
<circle cx="658.1" cy="160.6" r="5.45" fill="rgb(193,82,64)"/>
<circle cx="616.5" cy="206.0" r="5.45" fill="rgb(193,82,64)"/>
<circle cx="642.3" cy="211.0" r="5.45" fill="rgb(193,82,64)"/>
<g clip-path="url(#cpR)"><polygon points="467.80,137.34 472.56,139.06 477.31,140.77 482.06,142.47 486.82,144.16 491.57,145.83 496.33,147.50 501.09,149.14 505.84,150.77 510.60,152.38 515.35,153.97 520.11,155.53 524.86,157.06 529.62,158.55 534.37,160.01 539.12,161.42 543.88,162.78 548.63,164.09 553.39,165.33 558.14,166.50 562.90,167.59 567.65,168.61 572.41,169.54 577.16,170.39 581.92,171.15 586.67,171.82 591.43,172.42 596.18,172.95 600.94,173.41 605.69,173.82 610.45,174.16 615.21,174.47 619.96,174.73 624.72,174.95 629.47,175.14 634.23,175.31 638.98,175.45 643.74,175.57 648.49,175.67 653.25,175.75 658.00,175.82 658.00,215.79 653.25,214.12 648.49,212.46 643.74,210.82 638.98,209.20 634.23,207.60 629.47,206.03 624.72,204.48 619.96,202.96 615.21,201.48 610.45,200.05 605.69,198.65 600.94,197.32 596.18,196.04 591.43,194.82 586.67,193.68 581.92,192.62 577.16,191.64 572.41,190.75 567.65,189.94 562.90,189.21 558.14,188.57 553.39,188.00 548.63,187.50 543.88,187.06 539.12,186.68 534.37,186.35 529.62,186.07 524.86,185.83 520.11,185.62 515.35,185.43 510.60,185.28 505.84,185.15 501.09,185.04 496.33,184.94 491.57,184.87 486.82,184.80 482.06,184.75 477.31,184.71 472.56,184.68 467.80,184.66" fill="rgb(192,150,144)"/>
<circle cx="521.1" cy="118.5" r="5.45" fill="rgb(140,104,100)"/>
<circle cx="576.1" cy="64.4" r="5.45" fill="rgb(140,104,100)"/>
<circle cx="537.7" cy="130.1" r="5.45" fill="rgb(140,104,100)"/>
<circle cx="564.5" cy="130.8" r="5.45" fill="rgb(140,104,100)"/>
<circle cx="614.6" cy="105.3" r="5.45" fill="rgb(140,104,100)"/>
<circle cx="637.6" cy="101.1" r="5.45" fill="rgb(140,104,100)"/>
<circle cx="514.6" cy="137.7" r="5.45" fill="rgb(140,104,100)"/>
<circle cx="460.5" cy="195.1" r="5.45" fill="rgb(140,104,100)"/>
<circle cx="462.8" cy="206.0" r="5.45" fill="rgb(140,104,100)"/>
<circle cx="469.1" cy="206.3" r="5.45" fill="rgb(140,104,100)"/>
<circle cx="494.7" cy="192.0" r="5.45" fill="rgb(140,104,100)"/>
<circle cx="505.1" cy="195.2" r="5.45" fill="rgb(140,104,100)"/>
<circle cx="524.2" cy="197.5" r="5.45" fill="rgb(140,104,100)"/>
<circle cx="484.6" cy="225.1" r="5.45" fill="rgb(140,104,100)"/>
<circle cx="513.5" cy="224.8" r="5.45" fill="rgb(140,104,100)"/>
<circle cx="532.9" cy="243.1" r="5.45" fill="rgb(140,104,100)"/>
<circle cx="545.6" cy="241.9" r="5.45" fill="rgb(140,104,100)"/>
<circle cx="557.5" cy="251.3" r="5.45" fill="rgb(140,104,100)"/>
<circle cx="593.6" cy="254.7" r="5.45" fill="rgb(140,104,100)"/>
<circle cx="563.0" cy="269.2" r="5.45" fill="rgb(140,104,100)"/>
<circle cx="620.0" cy="251.3" r="5.45" fill="rgb(140,104,100)"/>
<circle cx="540.0" cy="214.0" r="5.45" fill="rgb(140,104,100)"/>
<circle cx="558.0" cy="209.1" r="5.45" fill="rgb(140,104,100)"/>
<circle cx="559.0" cy="223.8" r="5.45" fill="rgb(140,104,100)"/>
<circle cx="583.3" cy="223.6" r="5.45" fill="rgb(140,104,100)"/>
<circle cx="592.7" cy="221.4" r="5.45" fill="rgb(140,104,100)"/>
<circle cx="625.2" cy="218.8" r="5.45" fill="rgb(140,104,100)"/>
<circle cx="660.5" cy="220.4" r="5.45" fill="rgb(140,104,100)"/>
<circle cx="574.0" cy="176.7" r="5.45" fill="rgb(140,104,100)"/>
<circle cx="633.0" cy="203.5" r="5.45" fill="rgb(140,104,100)"/>
<circle cx="643.8" cy="207.7" r="5.45" fill="rgb(140,104,100)"/>
<circle cx="467.8" cy="137.9" r="5.45" fill="rgb(193,82,64)"/>
<circle cx="514.4" cy="135.8" r="5.45" fill="rgb(193,82,64)"/>
<circle cx="507.4" cy="149.4" r="5.45" fill="rgb(193,82,64)"/>
<circle cx="565.3" cy="119.8" r="5.45" fill="rgb(193,82,64)"/>
<circle cx="592.8" cy="133.3" r="5.45" fill="rgb(193,82,64)"/>
<circle cx="547.4" cy="145.5" r="5.45" fill="rgb(193,82,64)"/>
<circle cx="563.3" cy="150.9" r="5.45" fill="rgb(193,82,64)"/>
<circle cx="599.2" cy="167.8" r="5.45" fill="rgb(193,82,64)"/>
<circle cx="478.0" cy="171.2" r="5.45" fill="rgb(193,82,64)"/>
<circle cx="491.0" cy="185.5" r="5.45" fill="rgb(193,82,64)"/>
<circle cx="534.3" cy="186.2" r="5.45" fill="rgb(193,82,64)"/>
<circle cx="567.5" cy="189.8" r="5.45" fill="rgb(193,82,64)"/>
<circle cx="587.0" cy="182.2" r="5.45" fill="rgb(193,82,64)"/>
<circle cx="588.3" cy="192.8" r="5.45" fill="rgb(193,82,64)"/>
<circle cx="600.9" cy="182.6" r="5.45" fill="rgb(193,82,64)"/>
<circle cx="607.6" cy="182.2" r="5.45" fill="rgb(193,82,64)"/>
<circle cx="615.9" cy="182.8" r="5.45" fill="rgb(193,82,64)"/>
<circle cx="622.2" cy="173.9" r="5.45" fill="rgb(193,82,64)"/>
<circle cx="624.7" cy="177.9" r="5.45" fill="rgb(193,82,64)"/>
<circle cx="613.8" cy="190.3" r="5.45" fill="rgb(193,82,64)"/>
<circle cx="632.8" cy="191.8" r="5.45" fill="rgb(193,82,64)"/>
<circle cx="571.9" cy="202.1" r="5.45" fill="rgb(193,82,64)"/>
<circle cx="566.5" cy="209.7" r="5.45" fill="rgb(193,82,64)"/>
<circle cx="576.8" cy="207.4" r="5.45" fill="rgb(193,82,64)"/>
<circle cx="581.4" cy="212.8" r="5.45" fill="rgb(193,82,64)"/>
<circle cx="548.2" cy="218.2" r="5.45" fill="rgb(193,82,64)"/>
<circle cx="565.8" cy="217.5" r="5.45" fill="rgb(193,82,64)"/>
<circle cx="613.6" cy="221.4" r="5.45" fill="rgb(193,82,64)"/>
<circle cx="658.1" cy="160.6" r="5.45" fill="rgb(193,82,64)"/>
<circle cx="616.5" cy="206.0" r="5.45" fill="rgb(193,82,64)"/>
<circle cx="642.3" cy="211.0" r="5.45" fill="rgb(193,82,64)"/>
<line x1="467.8" y1="160.30" x2="658.0" y2="195.79" stroke="rgb(193,82,64)" stroke-width="1.6"/>
</g></g>
<line x1="461.0" y1="199.00" x2="660.7" y2="192.71" stroke="#666666" stroke-width="1.6"/>
<polyline points="81.6,61.7 92.8,61.7 92.8,308.82 81.6,308.82" fill="none" stroke="#2a2a2a" stroke-width="1.6"/>
<line x1="81.6" y1="123.48" x2="92.8" y2="123.48" stroke="#2a2a2a" stroke-width="1.6"/>
<line x1="81.6" y1="185.26" x2="92.8" y2="185.26" stroke="#2a2a2a" stroke-width="1.6"/>
<line x1="81.6" y1="247.04000000000002" x2="92.8" y2="247.04000000000002" stroke="#2a2a2a" stroke-width="1.6"/>
<polyline points="104.5,331.7 104.5,321.3 306.01,321.3 306.01,331.7" fill="none" stroke="#2a2a2a" stroke-width="1.6"/>
<line x1="171.67000000000002" y1="321.3" x2="171.67000000000002" y2="331.7" stroke="#2a2a2a" stroke-width="1.6"/>
<line x1="238.84" y1="321.3" x2="238.84" y2="331.7" stroke="#2a2a2a" stroke-width="1.6"/>
<polyline points="441.3,67.3 451.0,67.3 451.0,312.49 441.3,312.49" fill="none" stroke="#2a2a2a" stroke-width="1.6"/>
<line x1="441.3" y1="149.03" x2="451.0" y2="149.03" stroke="#2a2a2a" stroke-width="1.6"/>
<line x1="441.3" y1="230.76" x2="451.0" y2="230.76" stroke="#2a2a2a" stroke-width="1.6"/>
<polyline points="459.1,332.5 459.1,321.5 658.69,321.5 658.69,332.5" fill="none" stroke="#2a2a2a" stroke-width="1.6"/>
<line x1="525.63" y1="321.5" x2="525.63" y2="332.5" stroke="#2a2a2a" stroke-width="1.6"/>
<line x1="592.1600000000001" y1="321.5" x2="592.1600000000001" y2="332.5" stroke="#2a2a2a" stroke-width="1.6"/>
<g class="t">
<text x="80.0" y="68.9" font-size="25" text-anchor="end">0.25</text>
<text x="77.0" y="130.6" font-size="25" text-anchor="end">0.2</text>
<text x="80.0" y="192.4" font-size="25" text-anchor="end">0.<tspan class="h">1</tspan>5</text>
<text x="77.0" y="254.4" font-size="25" text-anchor="end">0.<tspan class="h">1</tspan></text>
<text x="80.0" y="316.6" font-size="25" text-anchor="end">0.05</text>
<text x="433.2" y="75.6" font-size="25" text-anchor="end">0.35</text>
<text x="433.0" y="158.0" font-size="25" text-anchor="end">0.25</text>
<text x="436.2" y="238.6" font-size="25" text-anchor="end">0.<tspan class="h">1</tspan>5</text>
<text x="436.4" y="319.9" font-size="25" text-anchor="end">0.05</text>
<text x="105.10" y="356.6" font-size="25" text-anchor="middle">0</text>
<text x="172.27" y="356.6" font-size="25" text-anchor="middle"><tspan class="h">1</tspan></text>
<text x="240.04" y="356.6" font-size="25" text-anchor="middle">2</text>
<text x="307.21" y="356.6" font-size="25" text-anchor="middle">3</text>
<text x="458.50" y="356.6" font-size="25" text-anchor="middle">0</text>
<text x="526.13" y="356.6" font-size="25" text-anchor="middle"><tspan class="h">1</tspan></text>
<text x="593.16" y="356.6" font-size="25" text-anchor="middle">2</text>
<text x="660.09" y="356.6" font-size="25" text-anchor="middle">3</text>
<text x="56.0" y="19.9" font-size="25.6">Speech Envelope</text>
<text x="434.6" y="19.8" font-size="25.6">Visual Motion</text>
<text x="105.0" y="58.2" font-size="19.15">ASD: r = 0.<tspan class="h">1</tspan>97, p = 0.288</text>
<text x="105.4" y="80.7" font-size="19.15">TD: r = -0.272, p = 0.<tspan class="h">1</tspan>32</text>
<text x="461.0" y="292.7" font-size="19">ASD: r= -0.325, p=0.074</text>
<text x="461.6" y="315.2" font-size="19">TD: r=0.033, p=0.858</text>
<text x="103.9" y="388.0" font-size="25.6">Theta (in radians)</text>
<text x="453.0" y="388.0" font-size="25.6" textLength="214.5" lengthAdjust="spacingAndGlyphs">Theta (in radians)</text>
<text transform="translate(21.0,323.7) rotate(-90)" x="0" y="0" font-size="25.5">Reconstruction Accuracy</text>
<text transform="translate(376.3,327.0) rotate(-90)" x="0" y="0" font-size="25.5">Reconstruction Accuracy</text>
</g>
<rect x="268.6" y="428" width="40.3" height="45" fill="rgb(195,195,195)"/>
<line x1="272.1" y1="448.1" x2="305.2" y2="448.1" stroke="#666666" stroke-width="1.1" stroke-opacity="0.75"/>
<circle cx="288.6" cy="448.1" r="5.6" fill="#666666"/>
<g class="t"><text x="321.6" y="456.4" font-size="25.3">TD</text></g>
<rect x="379.0" y="428" width="40.7" height="45" fill="rgb(248,165,168)"/>
<line x1="383.2" y1="448.1" x2="415.7" y2="448.1" stroke="#ec1c24" stroke-width="1.1" stroke-opacity="0.75"/>
<circle cx="399.4" cy="448.1" r="5.6" fill="#ec1c24"/>
<g class="t"><text x="432.0" y="456.4" font-size="25.3">ASD</text></g>
<path d="M763 0L583 0L583 1147C540 1106 483 1064 412 1023C342 981 278 950 222 929L222 1103C323 1150 411 1207 486 1274C561 1341 614 1407 645 1471L763 1471Z" transform="translate(52.19,192.40) scale(0.012207,-0.012207)" fill="#000"/>
<path d="M763 0L583 0L583 1147C540 1106 483 1064 412 1023C342 981 278 950 222 929L222 1103C323 1150 411 1207 486 1274C561 1341 614 1407 645 1471L763 1471Z" transform="translate(63.09,254.40) scale(0.012207,-0.012207)" fill="#000"/>
<path d="M763 0L583 0L583 1147C540 1106 483 1064 412 1023C342 981 278 950 222 929L222 1103C323 1150 411 1207 486 1274C561 1341 614 1407 645 1471L763 1471Z" transform="translate(408.39,238.60) scale(0.012207,-0.012207)" fill="#000"/>
<path d="M763 0L583 0L583 1147C540 1106 483 1064 412 1023C342 981 278 950 222 929L222 1103C323 1150 411 1207 486 1274C561 1341 614 1407 645 1471L763 1471Z" transform="translate(165.32,356.60) scale(0.012207,-0.012207)" fill="#000"/>
<path d="M763 0L583 0L583 1147C540 1106 483 1064 412 1023C342 981 278 950 222 929L222 1103C323 1150 411 1207 486 1274C561 1341 614 1407 645 1471L763 1471Z" transform="translate(519.18,356.60) scale(0.012207,-0.012207)" fill="#000"/>
<path d="M763 0L583 0L583 1147C540 1106 483 1064 412 1023C342 981 278 950 222 929L222 1103C323 1150 411 1207 486 1274C561 1341 614 1407 645 1471L763 1471Z" transform="translate(199.16,58.20) scale(0.009351,-0.009351)" fill="#000"/>
<path d="M763 0L583 0L583 1147C540 1106 483 1064 412 1023C342 981 278 950 222 929L222 1103C323 1150 411 1207 486 1274C561 1341 614 1407 645 1471L763 1471Z" transform="translate(283.07,80.70) scale(0.009351,-0.009351)" fill="#000"/>
</svg></body></html>
